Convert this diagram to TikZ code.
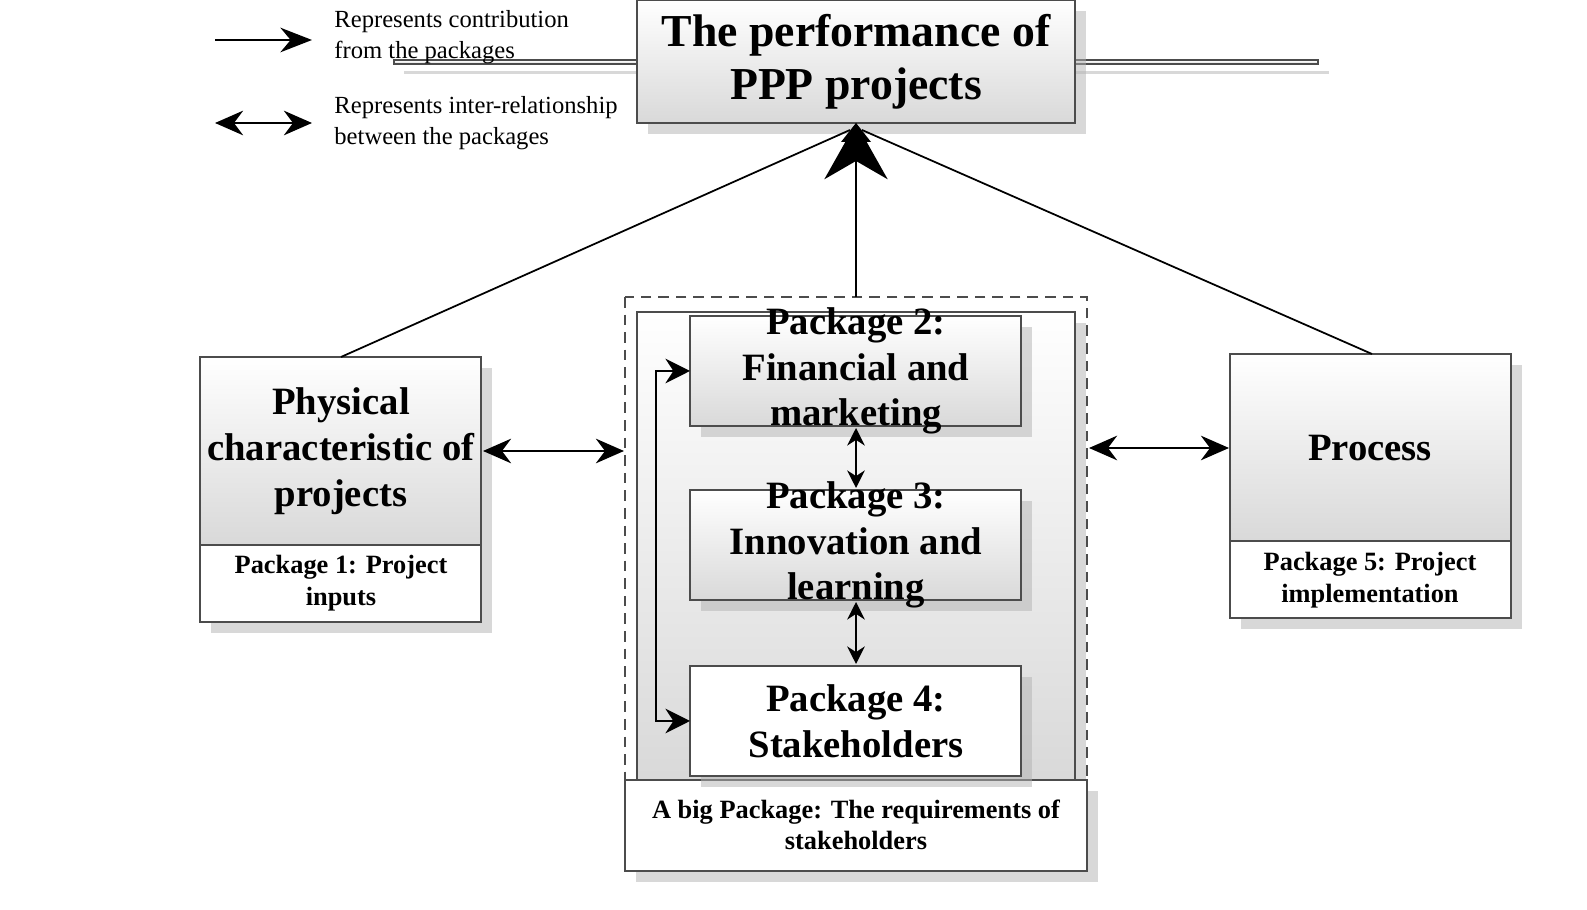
\documentclass[tikz,border=0pt]{standalone}
\usepackage{fontspec}
\setmainfont{Liberation Serif}
\usetikzlibrary{arrows.meta,shadows}
\begin{document}
\begin{tikzpicture}[x=0.01cm,y=-0.01cm,
 gbox/.style={draw=black!70,line width=0.6pt,top color=white,bottom color=black!15,drop shadow={shadow xshift=3pt,shadow yshift=-3pt,fill=black!30},align=center,font=\bfseries\fontsize{11}{13}\selectfont},
 wbox/.style={draw=black!70,line width=0.6pt,fill=white,drop shadow={shadow xshift=3pt,shadow yshift=-3pt,fill=black!30},align=center,font=\bfseries\fontsize{7}{9}\selectfont},
 arr/.style={line width=0.5pt,-{Stealth[length=9pt,width=7pt]}},
 darr/.style={line width=0.5pt,{Stealth[length=8pt,width=7pt]}-{Stealth[length=8pt,width=7pt]}},
 sarr/.style={line width=0.6pt,{Stealth[length=5pt,width=5pt]}-{Stealth[length=5pt,width=5pt]}},
 leg/.style={anchor=west,align=left,font=\fontsize{7}{9}\selectfont}]
\useasboundingbox (0,0) rectangle (1587,910);
% title
\node[gbox,minimum width=438\pgflinewidth,inner sep=0pt,text width=4cm,font=\bfseries\fontsize{13}{15}\selectfont] (t) at (856,62) {};
\draw[gbox,draw=black!70] (637,0) rectangle (1075,123);
\node[font=\bfseries\fontsize{13}{15}\selectfont,align=center] (title) at (856,62) {The performance of\\PPP projects};
\coordinate (tb) at (856,123);
% legend
\coordinate (l1a) at (215,40); \coordinate (l1b) at (312,40);
\draw[arr] (l1a) -- (l1b);
\node[leg] (lt1) at (322,37) {Represents contribution\\from the packages};
\coordinate (l2a) at (215,123); \coordinate (l2b) at (312,123);
\draw[darr] (l2a) -- (l2b);
\node[leg] (lt2) at (322,123) {Represents inter-relationship\\between the packages};
% left
\draw[gbox] (200,357) rectangle (481,545);
\node[font=\bfseries\fontsize{11}{13}\selectfont,align=center] (phys) at (341,451) {Physical\\characteristic of\\projects};
\draw[wbox] (200,545) rectangle (481,622);
\node[font=\bfseries\fontsize{7.5}{9}\selectfont,align=center] (p1) at (341,583) {Package 1: Project\\inputs};
% right
\draw[gbox] (1230,354) rectangle (1511,541);
\node[font=\bfseries\fontsize{11}{13}\selectfont] (proc) at (1370,448) {Process};
\draw[wbox] (1230,541) rectangle (1511,618);
\node[font=\bfseries\fontsize{7.5}{9}\selectfont,align=center] (p5) at (1370,580) {Package 5: Project\\implementation};
% big package
\draw[black!70,densely dashed,line width=0.6pt] (625,297) rectangle (1087,780);
\draw[gbox] (637,312) rectangle (1075,780);
\draw[wbox] (625,780) rectangle (1087,871);
\node[font=\bfseries\fontsize{7.5}{9}\selectfont,align=center] (bp) at (856,825) {A big Package: The requirements of\\stakeholders};
\draw[gbox] (690,316) rectangle (1021,426);
\node[font=\bfseries\fontsize{11}{13}\selectfont,align=center] (p2) at (856,371) {Package 2:\\Financial and\\marketing};
\draw[gbox] (690,490) rectangle (1021,600);
\node[font=\bfseries\fontsize{11}{13}\selectfont,align=center] (p3) at (856,545) {Package 3:\\Innovation and\\learning};
\draw[gbox,top color=white,bottom color=white] (690,666) rectangle (1021,776);
\node[font=\bfseries\fontsize{11}{13}\selectfont,align=center] (p4) at (856,721) {Package 4:\\Stakeholders};
% inner arrows
\draw[sarr] (856,428) -- (856,488);
\draw[sarr] (856,602) -- (856,664);
\draw[line width=0.5pt,{Stealth[length=7pt,width=7pt]}-{Stealth[length=7pt,width=7pt]}] (690,371) -- (656,371) -- (656,721) -- (690,721);
% side arrows
\draw[darr] (483,451) -- (624,451);
\draw[darr] (1089,448) -- (1229,448);
% contribution lines
\draw[line width=0.5pt] (341,357) -- (850,130);
\draw[line width=0.5pt] (1372,354) -- (862,130);
\draw[line width=0.5pt,-{Stealth[length=16pt,width=18pt]}] (856,297) -- (tb);
\fill (841,142) -- (856,123) -- (856,142) -- cycle;
\fill (871,142) -- (856,123) -- (856,142) -- cycle;
\end{tikzpicture}
\end{document}
